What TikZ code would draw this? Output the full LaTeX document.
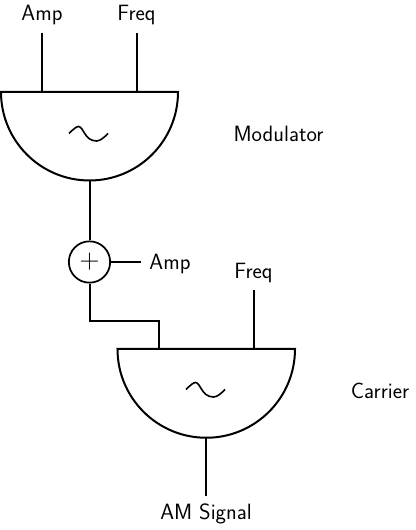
\documentclass[tikz,border=0pt]{standalone}
\usetikzlibrary{calc}
\tikzset{
  label/.style={font=\sffamily\fontsize{16.6}{19}\selectfont,inner sep=0pt,text height=11pt,text depth=3pt},
  wire/.style={line width=1.5pt},
  osc/.style={line width=1.5pt},
  wave/.pic={\draw[line width=1.2pt] (-19.5,0) .. controls (-15,4.5) and (-12,7) .. (-10,7)
     .. controls (-5,7) and (-4,-7.5) .. (8,-7.5) .. controls (12,-7.5) and (16,-3.5) .. (19.5,0);},
  adder/.style={draw,circle,line width=1.3pt,inner sep=0pt,minimum size=31pt,font=\fontsize{21}{24}\selectfont},
}
\begin{document}
\begin{tikzpicture}[x=0.75pt,y=0.75pt]
\useasboundingbox (0,0) rectangle (415,530);
% modulator
\draw[osc] (1,438) -- (178,438) arc (0:-180:88.5) -- cycle;
\pic at (88.5,396.5) {wave};
\node[label] (modamp) at (42,515) {Amp};
\node[label] (modfreq) at (136.5,515) {Freq};
\node[label] (modname) at (278.5,394) {Modulator};
\coordinate (modin1) at (42,438);
\coordinate (modin2) at (136.5,438);
\coordinate (modout) at (89.5,349.5);
\draw[wire] (42,497) -- (modin1);
\draw[wire] (136.5,497) -- (modin2);
% sum
\node[adder] (sum) at (89.5,268) {$+$};
\node[label] (sumamp) at (170,266) {Amp};
\coordinate (sumend) at (141,268);
\draw[wire] (modout) -- (sum);
\draw[wire] (sum) -- (sumend);
% carrier
\draw[osc] (117.5,181) -- (295,181) arc (0:-180:88.75) -- cycle;
\pic at (205.5,140.5) {wave};
\node[label] (carfreq) at (253.5,257) {Freq};
\node[label] (carname) at (380,137) {Carrier};
\node[label] (amsignal) at (206,16) {AM Signal};
\coordinate (carin1) at (159,181);
\coordinate (carin2) at (253.5,181);
\coordinate (carout) at (206,92);
\coordinate (carend) at (206,34);
\coordinate (carfreqend) at (253.5,240);
\draw[wire] (sum) |- (159,209) -- (carin1);
\draw[wire] (carfreqend) -- (carin2);
\draw[wire] (carout) -- (carend);
\end{tikzpicture}
\end{document}
